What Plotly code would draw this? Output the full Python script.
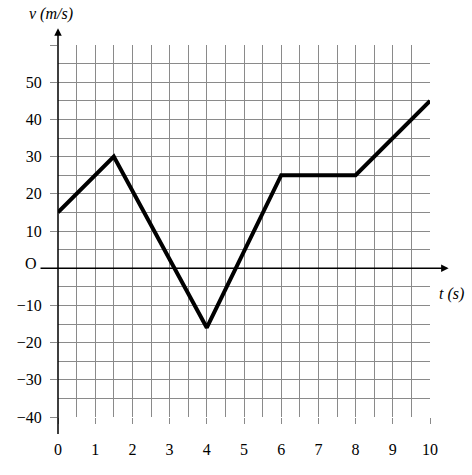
import plotly.graph_objects as go

t_vals = [0, 1.5, 4, 6, 8, 10]
v_vals = [15, 30, -16, 25, 25, 45]
x_ticks = list(range(0, 11))
y_ticks = [-40, -30, -20, -10, 0, 10, 20, 30, 40, 50, 60]
y_labels = ["\u221240", "\u221230", "\u221220", "\u221210", "", "10", "20", "30", "40", "50", ""]

FONT = "Liberation Serif, Times New Roman, serif"
GRID = "#8a8a8a"
T0, T1 = 0, 10
V0, V1 = -40, 60


def fx(t):
    return (t - T0) / (T1 - T0)


def fy(v):
    return (v - V0) / (V1 - V0)


fig = go.Figure()
fig.add_trace(go.Scatter(x=t_vals, y=v_vals, mode="lines",
                         line=dict(color="black", width=4),
                         cliponaxis=False, hoverinfo="skip"))

fig.update_layout(
    width=472, height=475,
    margin=dict(l=58, r=42, t=45, b=58, autoexpand=False),
    paper_bgcolor="white", plot_bgcolor="white",
    showlegend=False,
    xaxis=dict(range=[T0, T1], tickvals=x_ticks, ticktext=[str(v) for v in x_ticks],
               showgrid=True, gridcolor=GRID, gridwidth=1,
               ticks="outside", ticklen=6, tickcolor=GRID, tickwidth=1,
               zeroline=False, showline=False, automargin=False,
               tickfont=dict(family=FONT, size=16, color="black"),
               ticklabelstandoff=12,
               minor=dict(dtick=0.5, showgrid=True, gridcolor=GRID, gridwidth=1)),
    yaxis=dict(range=[V0, V1], tickvals=y_ticks, ticktext=y_labels,
               showgrid=True, gridcolor=GRID, gridwidth=1,
               ticks="outside", ticklen=7, tickcolor=GRID, tickwidth=1,
               zeroline=False, showline=False, automargin=False,
               tickfont=dict(family=FONT, size=16, color="black"),
               ticklabelstandoff=5,
               minor=dict(dtick=5, showgrid=True, gridcolor=GRID, gridwidth=1)),
)

# vertical axis with arrow
fig.add_annotation(x=fx(0), y=fy(64.5), ax=fx(0), ay=fy(-45),
                   xref="x domain", yref="y domain", axref="x domain", ayref="y domain",
                   showarrow=True, arrowhead=2, arrowsize=1, arrowwidth=1.5, arrowcolor="black", text="")
# horizontal axis with arrow
fig.add_annotation(x=fx(10.5), y=fy(0), ax=fx(-0.51), ay=fy(0),
                   xref="x domain", yref="y domain", axref="x domain", ayref="y domain",
                   showarrow=True, arrowhead=2, arrowsize=1, arrowwidth=1.5, arrowcolor="black", text="")

fig.add_annotation(x=fx(-0.95), y=fy(1.3), xref="x domain", yref="y domain", text="O", showarrow=False,
                   font=dict(family=FONT, size=16, color="black"))
fig.add_annotation(x=fx(-0.2), y=fy(65.4), xref="x domain", yref="y domain", text="<i>v (m/s)</i>",
                   showarrow=False, xanchor="center", yanchor="bottom",
                   font=dict(family=FONT, size=16, color="black"))
fig.add_annotation(x=fx(10.2), y=fy(-10), xref="x domain", yref="y domain", text="<i>t (s)</i>",
                   showarrow=False, xanchor="left",
                   font=dict(family=FONT, size=16, color="black"))

fig.write_html("out.html", config={"displayModeBar": False},
               post_script="document.body.style.margin='0';")
